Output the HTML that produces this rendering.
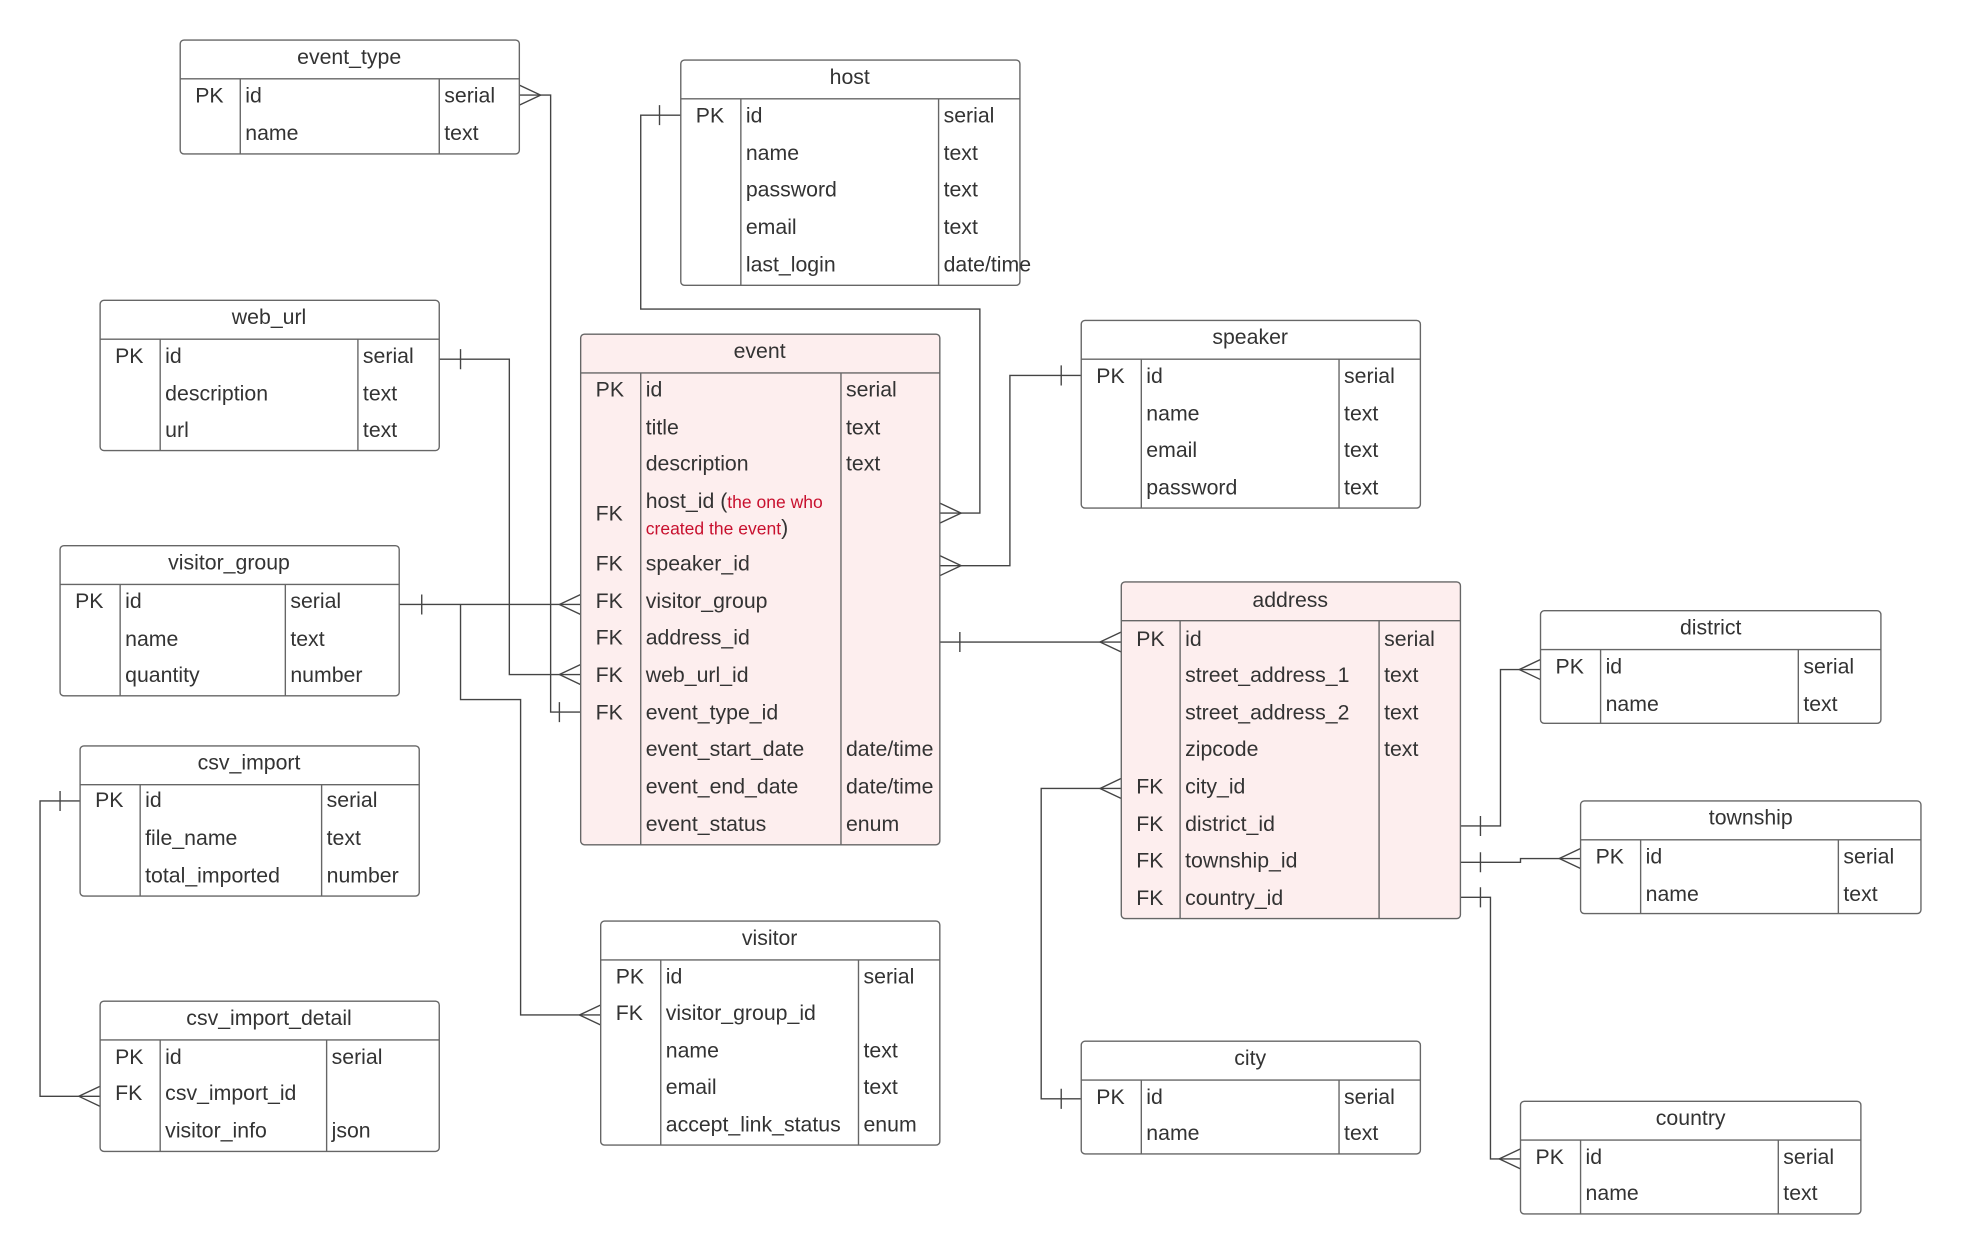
<!DOCTYPE html>
<html><head><meta charset="utf-8"><style>
html,body{margin:0;padding:0;background:#fff}
svg{display:block}
text{font-family:"Liberation Sans",sans-serif;font-size:17px;fill:#333}
.h{text-anchor:middle}
.b{fill:#fff;stroke:#666;stroke-width:1.1}
.p{fill:#fdeeee;stroke:#666;stroke-width:1.1}
.l{stroke:#666;stroke-width:1.1;fill:none}
.c{stroke:#444;stroke-width:1.1;fill:none}
</style></head><body>
<svg width="1961" height="1254" viewBox="0 0 1567 1002" preserveAspectRatio="none" xmlns="http://www.w3.org/2000/svg">
<path class="c" d="M415,76 H440 V569 H464"/><path class="c" d="M415,68 L432,76 L415,84 M447,561 V577"/>
<path class="c" d="M544,92 H512 V247 H783 V410 H751"/><path class="c" d="M527,84 V100 M751,402 L768,410 L751,418"/>
<path class="c" d="M351,287 H407 V539 H464"/><path class="c" d="M368,279 V295 M464,531 L447,539 L464,547"/>
<path class="c" d="M864,300 H807 V452 H751"/><path class="c" d="M848,292 V308 M751,444 L768,452 L751,460"/>
<path class="c" d="M319,483 H464"/><path class="c" d="M337,475 V491 M464,475 L447,483 L464,491"/>
<path class="c" d="M368,483 V559 H416 V811 H480"/><path class="c" d="M480,803 L463,811 L480,819"/>
<path class="c" d="M751,513 H896"/><path class="c" d="M767,505 V521 M896,505 L879,513 L896,521"/>
<path class="c" d="M896,630 H832 V878 H864"/><path class="c" d="M896,622 L879,630 L896,638 M848,870 V886"/>
<path class="c" d="M1167,660 H1199 V535 H1231"/><path class="c" d="M1183,652 V668 M1231,527 L1214,535 L1231,543"/>
<path class="c" d="M1167,689 H1215 V686 H1263"/><path class="c" d="M1183,681 V697 M1263,678 L1246,686 L1263,694"/>
<path class="c" d="M1167,717 H1191 V926 H1215"/><path class="c" d="M1183,709 V725 M1215,918 L1198,926 L1215,934"/>
<path class="c" d="M64,640 H32 V876 H80"/><path class="c" d="M48,632 V648 M80,868 L63,876 L80,884"/>

<rect class="b" x="144" y="32" width="271" height="91" rx="3"/><path class="l" d="M144,63H415M192,63V123M351,63V123"/>
<text class="h" x="279" y="51">event_type</text>
<text x="156" y="82">PK</text><text x="196" y="82">id</text><text x="355" y="82">serial</text>
<text x="196" y="112">name</text><text x="355" y="112">text</text>

<rect class="b" x="544" y="48" width="271" height="180" rx="3"/><path class="l" d="M544,79H815M592,79V228M750,79V228"/>
<text class="h" x="679" y="67">host</text>
<text x="556" y="98">PK</text><text x="596" y="98">id</text><text x="754" y="98">serial</text>
<text x="596" y="128">name</text><text x="754" y="128">text</text>
<text x="596" y="157">password</text><text x="754" y="157">text</text>
<text x="596" y="187">email</text><text x="754" y="187">text</text>
<text x="596" y="217">last_login</text><text x="754" y="217">date/time</text>

<rect class="b" x="80" y="240" width="271" height="120" rx="3"/><path class="l" d="M80,271H351M128,271V360M286,271V360"/>
<text class="h" x="215" y="259">web_url</text>
<text x="92" y="290">PK</text><text x="132" y="290">id</text><text x="290" y="290">serial</text>
<text x="132" y="320">description</text><text x="290" y="320">text</text>
<text x="132" y="349">url</text><text x="290" y="349">text</text>

<rect class="p" x="464" y="267" width="287" height="408" rx="3"/><path class="l" d="M464,298H751M512,298V675M672,298V675"/>
<text class="h" x="607" y="286">event</text>
<text x="476" y="317">PK</text><text x="516" y="317">id</text><text x="676" y="317">serial</text>
<text x="516" y="347">title</text><text x="676" y="347">text</text>
<text x="516" y="376">description</text><text x="676" y="376">text</text>
<text x="476" y="416">FK</text><text x="516" y="406">host_id (<tspan style="fill:#c8102e;font-size:14px">the one who</tspan></text>
<text x="516" y="427"><tspan style="fill:#c8102e;font-size:14px">created the event</tspan>)</text>
<text x="476" y="456">FK</text><text x="516" y="456">speaker_id</text>
<text x="476" y="486">FK</text><text x="516" y="486">visitor_group</text>
<text x="476" y="515">FK</text><text x="516" y="515">address_id</text>
<text x="476" y="545">FK</text><text x="516" y="545">web_url_id</text>
<text x="476" y="575">FK</text><text x="516" y="575">event_type_id</text>
<text x="516" y="604">event_start_date</text><text x="676" y="604">date/time</text>
<text x="516" y="634">event_end_date</text><text x="676" y="634">date/time</text>
<text x="516" y="664">event_status</text><text x="676" y="664">enum</text>

<rect class="b" x="864" y="256" width="271" height="150" rx="3"/><path class="l" d="M864,287H1135M912,287V406M1070,287V406"/>
<text class="h" x="999" y="275">speaker</text>
<text x="876" y="306">PK</text><text x="916" y="306">id</text><text x="1074" y="306">serial</text>
<text x="916" y="336">name</text><text x="1074" y="336">text</text>
<text x="916" y="365">email</text><text x="1074" y="365">text</text>
<text x="916" y="395">password</text><text x="1074" y="395">text</text>

<rect class="b" x="48" y="436" width="271" height="120" rx="3"/><path class="l" d="M48,467H319M96,467V556M228,467V556"/>
<text class="h" x="183" y="455">visitor_group</text>
<text x="60" y="486">PK</text><text x="100" y="486">id</text><text x="232" y="486">serial</text>
<text x="100" y="516">name</text><text x="232" y="516">text</text>
<text x="100" y="545">quantity</text><text x="232" y="545">number</text>

<rect class="p" x="896" y="465" width="271" height="269" rx="3"/><path class="l" d="M896,496H1167M943,496V734M1102,496V734"/>
<text class="h" x="1031" y="485">address</text>
<text x="908" y="516">PK</text><text x="947" y="516">id</text><text x="1106" y="516">serial</text>
<text x="947" y="545">street_address_1</text><text x="1106" y="545">text</text>
<text x="947" y="575">street_address_2</text><text x="1106" y="575">text</text>
<text x="947" y="604">zipcode</text><text x="1106" y="604">text</text>
<text x="908" y="634">FK</text><text x="947" y="634">city_id</text>
<text x="908" y="664">FK</text><text x="947" y="664">district_id</text>
<text x="908" y="693">FK</text><text x="947" y="693">township_id</text>
<text x="908" y="723">FK</text><text x="947" y="723">country_id</text>

<rect class="b" x="1231" y="488" width="272" height="90" rx="3"/><path class="l" d="M1231,519H1503M1279,519V578M1437,519V578"/>
<text class="h" x="1367" y="507">district</text>
<text x="1243" y="538">PK</text><text x="1283" y="538">id</text><text x="1441" y="538">serial</text>
<text x="1283" y="568">name</text><text x="1441" y="568">text</text>

<rect class="b" x="1263" y="640" width="272" height="90" rx="3"/><path class="l" d="M1263,671H1535M1311,671V730M1469,671V730"/>
<text class="h" x="1399" y="659">township</text>
<text x="1275" y="690">PK</text><text x="1315" y="690">id</text><text x="1473" y="690">serial</text>
<text x="1315" y="720">name</text><text x="1473" y="720">text</text>

<rect class="b" x="64" y="596" width="271" height="120" rx="3"/><path class="l" d="M64,627H335M112,627V716M257,627V716"/>
<text class="h" x="199" y="615">csv_import</text>
<text x="76" y="645">PK</text><text x="116" y="645">id</text><text x="261" y="645">serial</text>
<text x="116" y="675">file_name</text><text x="261" y="675">text</text>
<text x="116" y="705">total_imported</text><text x="261" y="705">number</text>

<rect class="b" x="480" y="736" width="271" height="179" rx="3"/><path class="l" d="M480,767H751M528,767V915M686,767V915"/>
<text class="h" x="615" y="755">visitor</text>
<text x="492" y="786">PK</text><text x="532" y="786">id</text><text x="690" y="786">serial</text>
<text x="492" y="815">FK</text><text x="532" y="815">visitor_group_id</text>
<text x="532" y="845">name</text><text x="690" y="845">text</text>
<text x="532" y="874">email</text><text x="690" y="874">text</text>
<text x="532" y="904">accept_link_status</text><text x="690" y="904">enum</text>

<rect class="b" x="80" y="800" width="271" height="120" rx="3"/><path class="l" d="M80,831H351M128,831V920M261,831V920"/>
<text class="h" x="215" y="819">csv_import_detail</text>
<text x="92" y="850">PK</text><text x="132" y="850">id</text><text x="265" y="850">serial</text>
<text x="92" y="879">FK</text><text x="132" y="879">csv_import_id</text>
<text x="132" y="909">visitor_info</text><text x="265" y="909">json</text>

<rect class="b" x="864" y="832" width="271" height="90" rx="3"/><path class="l" d="M864,863H1135M912,863V922M1070,863V922"/>
<text class="h" x="999" y="851">city</text>
<text x="876" y="882">PK</text><text x="916" y="882">id</text><text x="1074" y="882">serial</text>
<text x="916" y="911">name</text><text x="1074" y="911">text</text>

<rect class="b" x="1215" y="880" width="272" height="90" rx="3"/><path class="l" d="M1215,911H1487M1263,911V970M1421,911V970"/>
<text class="h" x="1351" y="899">country</text>
<text x="1227" y="930">PK</text><text x="1267" y="930">id</text><text x="1425" y="930">serial</text>
<text x="1267" y="959">name</text><text x="1425" y="959">text</text>
</svg>
</body></html>
